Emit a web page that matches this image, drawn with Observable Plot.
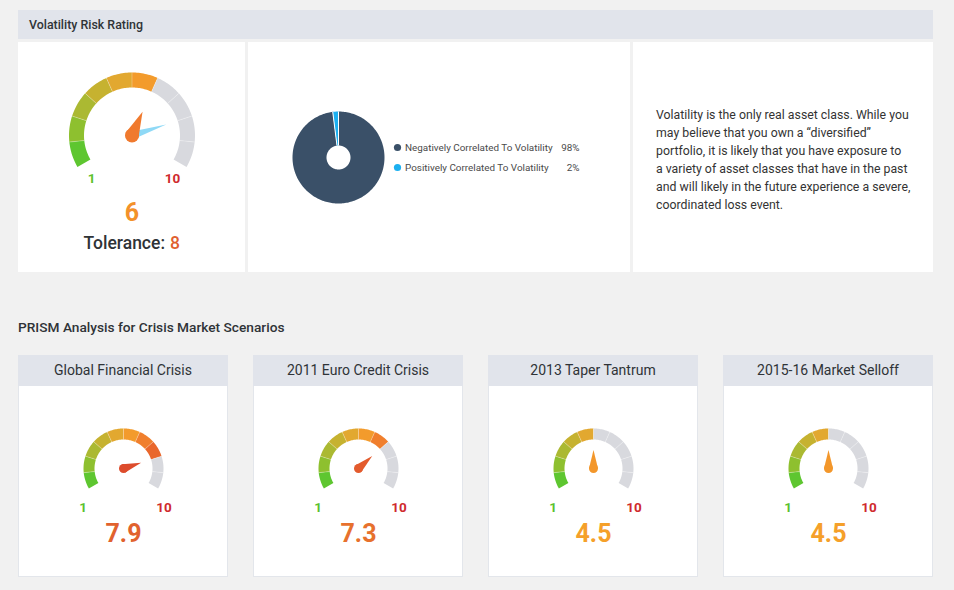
<!DOCTYPE html>
<html><head><meta charset="utf-8">
<script src="https://cdn.jsdelivr.net/npm/d3@7"></script>
<script src="https://cdn.jsdelivr.net/npm/@observablehq/plot@0.6"></script>
<style>
html,body{margin:0;padding:0;background:#f1f1f1;width:954px;height:590px;overflow:hidden;font-family:Roboto,sans-serif;color:#333}
.abs{position:absolute}
#hdr{left:18px;top:10px;width:915px;height:29px;background:#e1e4eb;font-size:12.4px;font-weight:500;line-height:29px;padding-left:11px;box-sizing:border-box;color:#2f3337}
.panel{background:#fff;top:42px;height:230px}
#p1{left:18px;width:227px}
#p2{left:248px;width:382px}
#p3{left:633px;width:300px}
#desc{padding:64px 0 0 23px;font-size:12.3px;line-height:18px;color:#333}
#prism{left:18px;top:318px;font-size:13.7px;font-weight:500;color:#2f3337;line-height:18px}
.card{top:355px;width:210px;height:222px;background:#fff;box-sizing:border-box;border:1px solid #e3e6eb;border-top:none}
.chead{height:31px;background:#e1e4eb;margin:0 -1px;text-align:center;font-size:14px;line-height:31px;color:#2f3337}
svg{display:block}
</style></head><body>
<div id="hdr" class="abs">Volatility Risk Rating</div>
<div id="p1" class="abs panel"></div>
<div id="p2" class="abs panel"></div>
<div id="p3" class="abs panel"><div id="desc"></div></div>
<div id="prism" class="abs">PRISM Analysis for Crisis Market Scenarios</div>
<div id="cards"></div>
<script>
// ---------- data ----------
const riskScore = 6;
const toleranceScore = 8;
const gaugeLevels = [1, 2, 3, 4, 5, 6, 7, 8, 9, 10];
const gaugeTickLabels = ["1", "10"];
const pieCategories = ["Negatively Correlated To Volatility", "Positively Correlated To Volatility"];
const pieValues = [98, 2];
const scenarioNames = ["Global Financial Crisis", "2011 Euro Credit Crisis", "2013 Taper Tantrum", "2015-16 Market Selloff"];
const scenarioScores = [7.9, 7.3, 4.5, 4.5];
const descriptionLines = [
  "Volatility is the only real asset class. While you",
  "may believe that you own a \u201cdiversified\u201d",
  "portfolio, it is likely that you have exposure to",
  "a variety of asset classes that have in the past",
  "and will likely in the future experience a severe,",
  "coordinated loss event."
];

// ---------- styles ----------
const segColors = ["#5ec630","#8ec02f","#abb932","#c6b230","#e2a830","#f39b2c","#f07f2d","#e9672c","#df522c","#d23f2b"];
const segGray = "#d8d9de";
const pieColors = ["#3a5068", "#1cb0f0"];
const textColor = d3.scaleLinear([4, 6, 8], ["#f6a52a", "#f3912a", "#e0602e"]);
const needleColor = d3.scaleLinear([4, 6, 8], ["#f4a02a", "#f07a2e", "#dc4a2c"]);
const rad = Math.PI / 180;

function canvas(W, H, marks, color) {
  return Plot.plot({
    width: W, height: H, margin: 0,
    x: {domain: [0, W], range: [0, W], axis: null},
    y: {domain: [0, H], range: [0, H], axis: null},
    color: color || {type: "identity"},
    style: {background: "transparent", fontFamily: "Roboto, sans-serif", overflow: "visible"},
    marks
  });
}
// annular polygon, angles in degrees clockwise from top
function arcPoly(a0, a1, r0, r1, cx, cy, key, color) {
  const n = Math.max(2, Math.ceil(Math.abs(a1 - a0) / 1.5));
  const pts = [];
  for (let k = 0; k <= n; k++) { const a = (a0 + (a1 - a0) * k / n) * rad; pts.push({x: cx + r1 * Math.sin(a), y: cy - r1 * Math.cos(a), key, color}); }
  for (let k = n; k >= 0; k--) { const a = (a0 + (a1 - a0) * k / n) * rad; pts.push({x: cx + r0 * Math.sin(a), y: cy - r0 * Math.cos(a), key, color}); }
  return pts;
}
function needlePoly(a, len, half, cx, cy, key, color) {
  const t = a * rad;
  return [
    {x: cx - half * Math.cos(t), y: cy - half * Math.sin(t), key, color},
    {x: cx + len * Math.sin(t), y: cy - len * Math.cos(t), key, color},
    {x: cx + half * Math.cos(t), y: cy + half * Math.sin(t), key, color}
  ];
}
const angle = d3.scaleLinear([0, 10], [-120, 120]);

function gaugeMarks(g) {
  const level = Math.round(g.score);
  const segPts = gaugeLevels.flatMap(i => arcPoly(angle(i - 1), angle(i), g.rIn, g.rOut, g.cx, g.cy, i, i <= level ? segColors[i - 1] : segGray));
  const marks = [
    Plot.line(segPts, {x: "x", y: "y", z: "key", fill: "color", stroke: "none"}),
    Plot.link(gaugeLevels.slice(0, -1), {
      x1: i => g.cx + g.rIn * Math.sin(angle(i) * rad), y1: i => g.cy - g.rIn * Math.cos(angle(i) * rad),
      x2: i => g.cx + g.rOut * Math.sin(angle(i) * rad), y2: i => g.cy - g.rOut * Math.cos(angle(i) * rad),
      stroke: "white", strokeOpacity: 0.35, strokeWidth: 0.8
    })
  ];
  if (g.tolerance != null) {
    marks.push(Plot.line(needlePoly(angle(Math.round(g.tolerance)), g.tolLen, 4, g.cx, g.cy, "t", "#8fd9f6"), {x: "x", y: "y", fill: "color", stroke: "none"}));
  }
  const nc = needleColor(g.score);
  marks.push(
    Plot.line(needlePoly(angle(level), g.nLen, g.nBase, g.cx, g.cy, "n", nc), {x: "x", y: "y", fill: "color", stroke: "none"}),
    Plot.dot([g.score], {x: () => g.cx, y: () => g.cy, r: g.nBase, fill: () => nc, stroke: "none"}),
    Plot.text(gaugeTickLabels, {
      x: (d, i) => g.cx + (i ? 1 : -1) * g.labDx, y: () => g.cy + g.labDy, text: d => d,
      fill: (d, i) => i ? "#cf2a2e" : "#5cc22e", fontSize: 13.5, fontWeight: 700
    }),
    Plot.text([g.score], {x: () => g.cx, y: () => g.cy + g.valDy, text: d => String(d), fill: () => textColor(g.score), fontSize: 25, fontWeight: 700})
  );
  return marks;
}

// ---------- main gauge ----------
{
  const g = {cx: 113.5, cy: 93, rOut: 63, rIn: 48, score: riskScore, tolerance: toleranceScore, nLen: 26, nBase: 7, tolLen: 36, labDx: 40.5, labDy: 43, valDy: 77};
  const marks = gaugeMarks(g);
  marks.push(
    Plot.text(["Tolerance:"], {x: () => g.cx + 33, y: () => g.cy + 108, text: d => d, textAnchor: "end", fill: "#2f3337", fontSize: 17.5, fontWeight: 500}),
    Plot.text([toleranceScore], {x: () => g.cx + 38, y: () => g.cy + 108, text: d => String(d), textAnchor: "start", fill: () => textColor(toleranceScore), fontSize: 17.5, fontWeight: 500})
  );
  document.getElementById("p1").appendChild(canvas(227, 230, marks));
}

// ---------- pie ----------
{
  const cx = 90, cy = 115, rOut = 46, rIn = 12;
  const arcs = d3.pie().sort(null).value(d => d)(pieValues);
  const pts = arcs.flatMap((a, i) => arcPoly(a.startAngle / rad, a.endAngle / rad, rIn, rOut, cx, cy, pieCategories[i], pieCategories[i]));
  const marks = [
    Plot.line(pts, {x: "x", y: "y", z: "key", fill: "color", stroke: "none"}),
    Plot.link(arcs, {
      x1: a => cx + rIn * Math.sin(a.startAngle), y1: a => cy - rIn * Math.cos(a.startAngle),
      x2: a => cx + rOut * Math.sin(a.startAngle), y2: a => cy - rOut * Math.cos(a.startAngle),
      stroke: "white", strokeWidth: 1
    }),
    Plot.dot(pieCategories, {x: () => 149, y: (d, i) => 105 + 20 * i, r: 3.6, fill: d => d, stroke: "none"}),
    Plot.text(pieCategories, {x: () => 156.5, y: (d, i) => 105 + 20 * i, text: d => d, textAnchor: "start", fill: "#4a4a4a", fontSize: 9.9}),
    Plot.text(pieValues, {x: () => 331, y: (d, i) => 105 + 20 * i, text: d => d + "%", textAnchor: "end", fill: "#4a4a4a", fontSize: 9.9})
  ];
  document.getElementById("p2").appendChild(canvas(382, 230, marks, {type: "ordinal", domain: pieCategories, range: pieColors}));
}

// ---------- description ----------
document.getElementById("desc").innerHTML = descriptionLines.map(l => `<div>${l}</div>`).join("");

// ---------- scenario cards ----------
{
  const wrap = document.getElementById("cards");
  scenarioNames.forEach((name, i) => {
    const card = document.createElement("div");
    card.className = "abs card";
    card.style.left = (18 + 235 * i) + "px";
    const head = document.createElement("div");
    head.className = "chead";
    head.textContent = name;
    card.appendChild(head);
    const g = {cx: 104, cy: 82, rOut: 40, rIn: 29, score: scenarioScores[i], nLen: 18.5, nBase: 4.5, labDx: 40.5, labDy: 39, valDy: 65};
    card.appendChild(canvas(208, 191, gaugeMarks(g)));
    wrap.appendChild(card);
  });
}
</script>
</body></html>
